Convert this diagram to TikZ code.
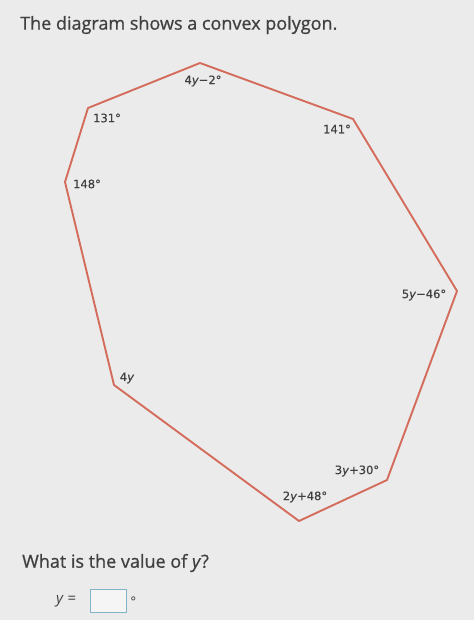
\documentclass[tikz,border=0pt]{standalone}
\usepackage{fontspec}
\setmainfont{Open Sans}[BoldFont={Open Sans}, BoldFeatures={FakeBold=0.8}, BoldItalicFont={Open Sans Italic}, BoldItalicFeatures={FakeBold=0.8}]
\newfontfamily\lblfont{DejaVu Sans}[BoldFont={DejaVu Sans}, BoldFeatures={FakeBold=0.6}, BoldItalicFont={DejaVu Sans Oblique}, BoldItalicFeatures={FakeBold=0.6}]
\begin{document}
\begin{tikzpicture}[x=1pt,y=-1pt,
  lbl/.style={font=\lblfont\bfseries\fontsize{11.5}{13}\selectfont, text=black!75, inner sep=0pt},
  txt/.style={font=\bfseries\fontsize{18}{21}\selectfont, text=black!75, inner sep=0pt, anchor=west},
  edge/.style={line width=1.9pt, line join=round}]
\useasboundingbox (0,0) rectangle (474,620);
\fill[black!8] (0,0) rectangle (474,620);
\node[txt] (title) at (20,25) {The diagram shows a convex polygon.};
\coordinate (A) at (200,63);
\coordinate (B) at (353,119);
\coordinate (C) at (457,291);
\coordinate (D) at (387,480);
\coordinate (E) at (299,521);
\coordinate (F) at (114,385);
\coordinate (G) at (65,182);
\coordinate (H) at (88,108);
\draw[edge, draw={rgb,255:red,212;green,108;blue,92}] (A) -- (B) -- (C) -- (D) -- (E) -- (F) -- (G) -- (H) -- cycle;
\node[lbl] (la) at (203,81) {4\textit{y}−2°};
\node[lbl] (lh) at (107,118) {131°};
\node[lbl] (lb) at (337,129) {141°};
\node[lbl] (lg) at (87,184) {148°};
\node[lbl] (lc) at (424,295) {5\textit{y}−46°};
\node[lbl] (lf) at (127,378) {4\textit{y}};
\node[lbl] (ld) at (357,471) {3\textit{y}+30°};
\node[lbl] (le) at (305,497) {2\textit{y}+48°};
\node[txt] (q) at (22,563) {What is the value of \textit{y}?};
\node[txt, font=\fontsize{15}{18}\selectfont] (yeq) at (56,601) {\textit{y} =};
\node[draw={rgb,255:red,130;green,180;blue,200}, line width=0.8pt, fill=black!4, minimum width=36pt, minimum height=23pt, inner sep=0pt] (box) at (108.5,600.5) {};
\node[lbl, font=\lblfont\fontsize{13}{14}\selectfont, anchor=west] (deg) at ([xshift=3pt, yshift=-1pt]box.east) {°};
\end{tikzpicture}
\end{document}
